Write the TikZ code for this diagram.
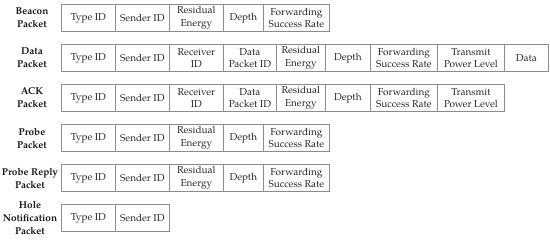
\documentclass[tikz,border=0pt]{standalone}
\usepackage{fontspec}
\setmainfont{TeX Gyre Pagella}
\begin{document}
\begin{tikzpicture}[x=1pt,y=-1pt,
  cell/.style={draw=black!45,line width=0.8pt,minimum height=27pt,inner sep=0pt,
    align=center,font=\fontsize{10}{12.5}\selectfont,text=black!85},
  lab/.style={align=center,font=\bfseries\fontsize{10}{13}\selectfont,text=black!90}]
\useasboundingbox (0,0) rectangle (550,240);
% helper macro to draw a row
\newcommand{\pktrow}[3]{%
  % #1 = row name, #2 = y center, #3 = list of left/right/text
  \foreach \l/\r/\t [count=\i] in {#3} {
    \node[cell,minimum width={\r-\l},anchor=west] (#1\i) at (\l,#2) {\t};
  }}
\node[lab] (lB) at (32,18) {Beacon\\Packet};
\pktrow{b}{18}{61/115/Type ID,115/169/Sender ID,169/223/Residual\\Energy,223/263/Depth,263/329/Forwarding\\Success Rate}
\node[lab] (lD) at (32,58) {Data\\Packet};
\pktrow{d}{58}{61/115/Type ID,115/169/Sender ID,169/223/Receiver\\ID,223/276/Data\\Packet ID,276/325/Residual\\Energy,325/370/Depth,370/437/Forwarding\\Success Rate,437/504/Transmit\\Power Level,504/548/Data}
\node[lab] (lA) at (32,98) {ACK\\Packet};
\pktrow{a}{98}{61/115/Type ID,115/169/Sender ID,169/223/Receiver\\ID,223/276/Data\\Packet ID,276/325/Residual\\Energy,325/370/Depth,370/437/Forwarding\\Success Rate,437/504/Transmit\\Power Level}
\node[lab] (lP) at (32,138) {Probe\\Packet};
\pktrow{p}{138}{61/115/Type ID,115/169/Sender ID,169/223/Residual\\Energy,223/263/Depth,263/329/Forwarding\\Success Rate}
\node[lab] (lR) at (30,178) {Probe Reply\\Packet};
\pktrow{r}{178}{61/115/Type ID,115/169/Sender ID,169/223/Residual\\Energy,223/263/Depth,263/329/Forwarding\\Success Rate}
\node[lab] (lH) at (30,218) {Hole\\Notification\\Packet};
\pktrow{h}{218}{61/115/Type ID,115/169/Sender ID}
\end{tikzpicture}
\end{document}
